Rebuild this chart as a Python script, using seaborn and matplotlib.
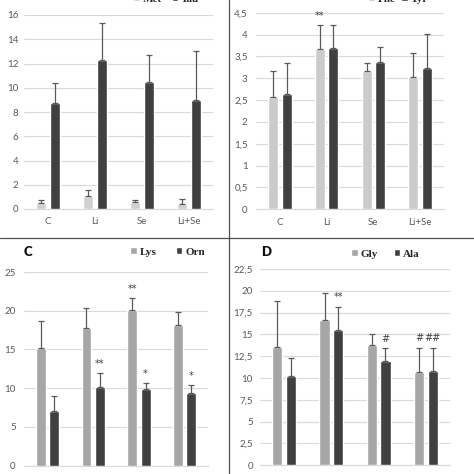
import numpy as np
import pandas as pd
import matplotlib
matplotlib.use("Agg")
import matplotlib.pyplot as plt
import seaborn as sns
from matplotlib.lines import Line2D

groups = ["C", "Li", "Se", "Li+Se"]

# panel A
met = [0.53, 1.06, 0.56, 0.42]
met_sd = [0.20, 0.47, 0.17, 0.39]
tau = [8.74, 12.28, 10.47, 8.96]
tau_sd = [1.64, 3.02, 2.25, 4.04]
yticks_a = [0, 2, 4, 6, 8, 10, 12, 14, 16]

# panel B
phe = [2.58, 3.66, 3.17, 3.03]
phe_sd = [0.59, 0.55, 0.17, 0.55]
tyr = [2.63, 3.70, 3.38, 3.23]
tyr_sd = [0.71, 0.51, 0.33, 0.79]
yticks_b = [0, 0.5, 1, 1.5, 2, 2.5, 3, 3.5, 4, 4.5]

# panel C
lys = [15.2, 17.8, 20.15, 18.1]
lys_sd = [3.45, 2.5, 1.45, 1.7]
orn = [7.05, 10.2, 9.87, 9.4]
orn_sd = [1.95, 1.8, 0.78, 1.0]
yticks_c = [0, 5, 10, 15, 20, 25]

# panel D
gly = [13.53, 16.7, 13.76, 10.75]
gly_sd = [5.31, 3.0, 1.24, 2.75]
ala = [10.26, 15.55, 12.0, 10.85]
ala_sd = [2.01, 2.65, 1.4, 2.65]
yticks_d = [0, 2.5, 5, 7.5, 10, 12.5, 15, 17.5, 20, 22.5]

# significance marks: (panel, acid, group, text)
marks = [
    ("B", "Phe", "Li", "**"),
    ("C", "Lys", "Se", "**"),
    ("C", "Orn", "Li", "**"),
    ("C", "Orn", "Se", "*"),
    ("C", "Orn", "Li+Se", "*"),
    ("D", "Ala", "Li", "**"),
    ("D", "Ala", "Se", "#"),
    ("D", "Gly", "Li+Se", "#"),
    ("D", "Ala", "Li+Se", "##"),
]

sns.set_style("white")
plt.rcParams["font.family"] = ["Lato", "DejaVu Sans"]

W = 474
fig = plt.figure(figsize=(4.74, 4.74), dpi=100)
fig.patch.set_facecolor("white")

TICK_COL = "#595959"
GRID_COL = "#d9d9d9"
ERR_COL = "#5a5a5a"


def px_rect(l, r, t, b):
    return [l / W, 1 - b / W, (r - l) / W, (b - t) / W]


def draw_panel(key, rect, names, means, sds, colors, yticks, comma, ypad,
               show_x, leg_xy, colspace):
    ax = fig.add_axes(rect)
    rows = []
    for name, vals in zip(names, means):
        for g, v in zip(groups, vals):
            rows.append({"group": g, "acid": name, "value": v})
    df = pd.DataFrame(rows)
    sns.barplot(data=df, x="group", y="value", hue="acid", order=groups,
                hue_order=names, palette=dict(zip(names, colors)),
                saturation=1, width=0.58, gap=0.25, errorbar=None, ax=ax,
                zorder=3)

    # upper error bars only
    tops = {}
    for cont, name, vals, sd in zip(ax.containers, names, means, sds):
        xs = [p.get_x() + p.get_width() / 2 for p in cont.patches]
        ax.errorbar(xs, vals, yerr=[np.zeros(len(vals)), sd], fmt="none",
                    ecolor=ERR_COL, elinewidth=0.9, capsize=2.4,
                    capthick=0.9, zorder=4)
        for g, x, v, s in zip(groups, xs, vals, sd):
            tops[(name, g)] = (x, v + s)

    for pk, name, g, txt in marks:
        if pk != key:
            continue
        x, y = tops[(name, g)]
        ax.annotate(txt, xy=(x, y), xytext=(0, 6.5), textcoords="offset points",
                    ha="center", va="center", fontsize=7, color="#404040",
                    family="DejaVu Sans", annotation_clip=False)

    ax.set_xlim(-0.51, 3.51)
    ax.set_ylim(0, yticks[-1])
    ax.set_yticks(yticks)
    if comma:
        ax.set_yticklabels([f"{t:g}".replace(".", ",") for t in yticks])
    else:
        ax.set_yticklabels([f"{t:g}" for t in yticks])
    ax.yaxis.grid(True, color=GRID_COL, linewidth=0.8, zorder=0)
    ax.set_axisbelow(True)
    for s in ["top", "right", "left"]:
        ax.spines[s].set_visible(False)
    ax.spines["bottom"].set_color(GRID_COL)
    ax.spines["bottom"].set_linewidth(0.8)
    ax.tick_params(axis="y", length=0, pad=ypad, labelsize=7,
                   labelcolor=TICK_COL)
    ax.tick_params(axis="x", length=0, pad=6, labelsize=7,
                   labelcolor=TICK_COL)
    if not show_x:
        ax.set_xticklabels([])
    ax.set_xlabel("")
    ax.set_ylabel("")

    handles, labels = ax.get_legend_handles_labels()
    if ax.get_legend() is not None:
        ax.get_legend().remove()
    ax.legend(handles, labels, loc="center",
              bbox_to_anchor=(leg_xy[0] / W, 1 - leg_xy[1] / W),
              bbox_transform=fig.transFigure, ncol=2, frameon=False,
              handlelength=0.6, handleheight=0.6, handletextpad=0.25,
              columnspacing=colspace, borderpad=0, borderaxespad=0,
              prop={"family": "Liberation Serif", "weight": "bold", "size": 8})
    return ax


draw_panel("A", px_rect(24, 213, 15, 209), ["Met", "Tau"], [met, tau],
           [met_sd, tau_sd], ["#d0d0d0", "#404040"], yticks_a, False, 4,
           True, (166, -1), 0.9)
draw_panel("B", px_rect(256, 444, 12.7, 209.3), ["Phe", "Tyr"], [phe, tyr],
           [phe_sd, tyr_sd], ["#cbcbcb", "#404040"], yticks_b, True, 6,
           True, (398, -1), 0.5)
draw_panel("C", px_rect(24, 208, 272, 465.5), ["Lys", "Orn"], [lys, orn],
           [lys_sd, orn_sd], ["#a6a6a6", "#404040"], yticks_c, False, 6,
           False, (167.5, 252), 1.7)
draw_panel("D", px_rect(260, 450, 269, 465.3), ["Gly", "Ala"], [gly, ala],
           [gly_sd, ala_sd], ["#a6a6a6", "#404040"], yticks_d, True, 5.2,
           False, (385.5, 254), 1.4)

# panel letters
fig.text(28 / W, 1 - 252 / W, "C", ha="center", va="center", fontsize=9.5,
         fontweight="heavy", color="#111111")
fig.text(266 / W, 1 - 252 / W, "D", ha="center", va="center", fontsize=9.5,
         fontweight="heavy", color="#111111")

# frame lines between panels
fig.add_artist(Line2D([228.5 / W, 228.5 / W], [0, 1], color="#505050",
                      linewidth=0.9, transform=fig.transFigure))
fig.add_artist(Line2D([0, 1], [1 - 238.3 / W, 1 - 238.3 / W], color="#505050",
                      linewidth=0.9, transform=fig.transFigure))

fig.savefig("out.png", dpi=100)
